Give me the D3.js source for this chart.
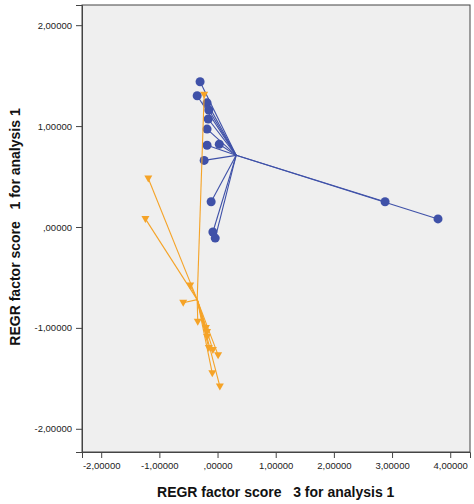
<!DOCTYPE html>
<html><head><meta charset="utf-8">
<script src="https://cdn.jsdelivr.net/npm/d3@7"></script>
<style>body{margin:0;background:#fff;font-family:"Liberation Sans",Arial,sans-serif}</style>
</head><body><div id="wrapper"></div>
<script>
// cluster 1 (blue circles)
const blueCentroid = [0.32, 0.71];
const blueX = [-0.30, -0.35, -0.18, -0.15, -0.16, -0.18, -0.18, 0.03, -0.23, -0.11, -0.08, -0.04, 2.88, 3.79];
const blueY = [1.44, 1.30, 1.23, 1.16, 1.07, 0.97, 0.81, 0.82, 0.66, 0.25, -0.05, -0.11, 0.25, 0.08];
// cluster 2 (orange triangles)
const orangeCentroid = [-0.35, -0.72];
const orangeX = [-1.19, -1.24, -0.23, -0.47, -0.59, -0.34, -0.20, -0.18, -0.18, -0.15, -0.08, 0.01, -0.09, 0.04];
const orangeY = [0.48, 0.08, 1.31, -0.58, -0.75, -0.94, -1.0, -1.04, -1.09, -1.2, -1.22, -1.27, -1.45, -1.58];
const xTicks = [-2, -1, 0, 1, 2, 3, 4];
const yTicks = [-2, -1, 0, 1, 2];

const dims = {width: 474, height: 504, margin: {top: 5, right: 4, bottom: 52, left: 82}};
dims.bw = dims.width - dims.margin.left - dims.margin.right;
dims.bh = dims.height - dims.margin.top - dims.margin.bottom;

const svg = d3.select("#wrapper").append("svg").attr("width", dims.width).attr("height", dims.height);
const bounds = svg.append("g").attr("transform", `translate(${dims.margin.left},${dims.margin.top})`);

const x = d3.scaleLinear().domain([-2.33, 4.34]).range([0, dims.bw]);
const y = d3.scaleLinear().domain([-2.23, 2.2]).range([dims.bh, 0]);

bounds.append("rect").attr("width", dims.bw).attr("height", dims.bh)
  .attr("fill", "#efefef").attr("stroke", "#444").attr("stroke-width", 1);

const fmt = d => d === 0 ? ",00000" : d3.format(".5f")(d).replace(".", ",").replace("−", "-");

const xAxis = bounds.append("g").attr("transform", `translate(0,${dims.bh})`)
  .call(d3.axisBottom(x).tickValues(xTicks).tickFormat(fmt).tickSize(6).tickPadding(4));
const yAxis = bounds.append("g")
  .call(d3.axisLeft(y).tickValues(yTicks).tickFormat(fmt).tickSize(6).tickPadding(4));
[xAxis, yAxis].forEach(a => {
  a.select(".domain").attr("stroke", "#444");
  a.selectAll(".tick line").attr("stroke", "#444");
  a.selectAll("text").attr("font-size", 9.5).attr("fill", "#222").attr("font-family", "Liberation Sans, Arial, sans-serif");
});

function drawCluster(cx, xs, ys, color, symbol) {
  const g = bounds.append("g");
  xs.forEach((v, i) => {
    g.append("line").attr("x1", x(cx[0])).attr("y1", y(cx[1]))
      .attr("x2", x(v)).attr("y2", y(ys[i])).attr("stroke", color).attr("stroke-width", 1.1);
  });
  xs.forEach((v, i) => {
    g.append("path").attr("d", symbol)
      .attr("transform", `translate(${x(v)},${y(ys[i])})`).attr("fill", color);
  });
}
drawCluster(blueCentroid, blueX, blueY, "#3f51a8", d3.symbol(d3.symbolCircle, 64)());
drawCluster(orangeCentroid, orangeX, orangeY, "#f5a327", "M-4,-3L4,-3L0,4Z");

svg.append("text").attr("x", dims.margin.left + x(1)).attr("y", 497)
  .attr("text-anchor", "middle").attr("font-size", 14).attr("font-weight", "bold").attr("fill", "#111")
  .attr("xml:space", "preserve").text("REGR factor score   3 for analysis 1");
svg.append("text").attr("transform", `translate(20,${dims.margin.top + y(0)}) rotate(-90)`)
  .attr("text-anchor", "middle").attr("font-size", 14).attr("font-weight", "bold").attr("fill", "#111")
  .attr("xml:space", "preserve").text("REGR factor score   1 for analysis 1");
</script></body></html>
